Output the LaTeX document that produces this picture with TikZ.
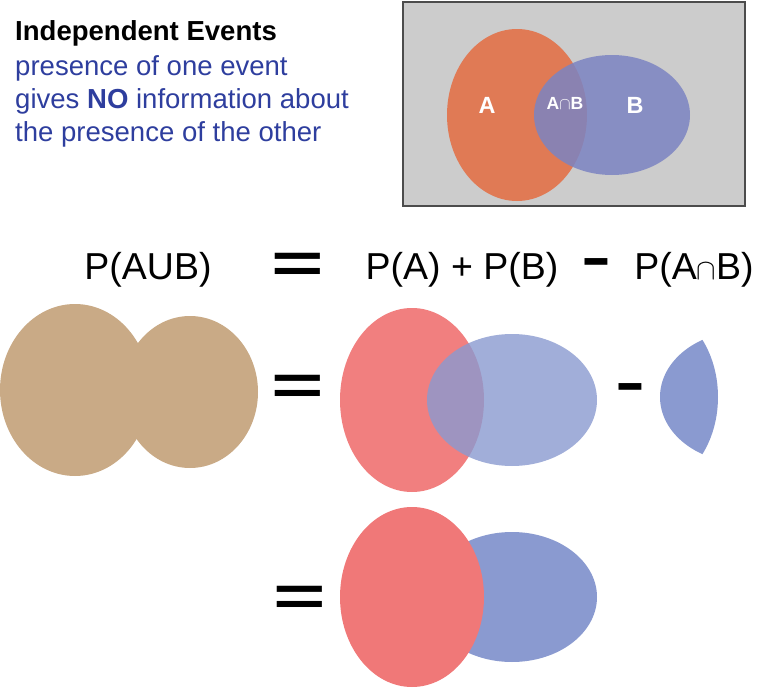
\documentclass[tikz,border=0pt]{standalone}
\usepackage{fontspec}
\setmainfont{Liberation Sans}
\usepackage{amssymb}
\usetikzlibrary{positioning}
\definecolor{evblue}{HTML}{2E3E9E}
\definecolor{aorange}{HTML}{E07A55}
\definecolor{bblue}{HTML}{7C84C2}
\definecolor{ured}{HTML}{F07878}
\definecolor{ublue}{HTML}{8A9AD0}
\definecolor{blobtan}{HTML}{C9AA86}
\begin{document}
\begin{tikzpicture}[x=0.03cm, y=-0.03cm,
    note/.style={font=\fontsize{23.5}{26}\selectfont, anchor=west, inner sep=0pt},
    eqtext/.style={font=\fontsize{32}{36}\selectfont, inner sep=0pt},
    eqsign/.style={font=\fontsize{48}{50}\selectfont\bfseries, inner sep=0pt, xscale=1.6},
    venn/.style={font=\fontsize{20}{22}\selectfont\bfseries, text=white, inner sep=0pt},
]
\useasboundingbox (0,0) rectangle (772,700);
% heading text
\node[note, font=\fontsize{23.5}{26}\selectfont\bfseries] (title) at (15,33) {Independent Events};
\node[note, text=evblue] (line1) at (15,68) {presence of one event};
\node[note, text=evblue] (line2) at (15,101) {gives \textbf{NO} information about};
\node[note, text=evblue] (line3) at (15,134) {the presence of the other};
% venn box
\draw[fill=black!20, draw=black!70, line width=1pt] (403,2) rectangle (745,206);
\fill[aorange] (517,115) ellipse [x radius=70, y radius=86];
\fill[bblue, fill opacity=0.85] (612,115) ellipse [x radius=78, y radius=60];
\node[venn] (la) at (487,105) {A};
\node[venn, font=\fontsize{15}{17}\selectfont\bfseries] (lab) at (565,103) {A$\cap$B};
\node[venn] (lb) at (635,105) {B};
% equation row
\node[eqtext] (pu) at (148,270) {P(AUB)};
\node[eqsign] (eq1) at (298,268) {=};
\node[eqtext] (pab) at (462,270) {P(A) + P(B)};
\node[eqsign] (mi1) at (596,268) {-};
\node[eqtext] (pi) at (694,270) {P(A$\cap$B)};
% union blob
\fill[blobtan] (75,390) ellipse [x radius=75, y radius=86];
\fill[blobtan] (190,392) ellipse [x radius=68, y radius=76];
\fill[blobtan] (110,360) rectangle (150,420);
\node[eqsign] (eq2) at (298,390) {=};
% overlapping ellipses
\fill[ured, fill opacity=0.95] (412,400) ellipse [x radius=72, y radius=92];
\fill[ublue, fill opacity=0.8] (512,400) ellipse [x radius=85, y radius=66];
\node[eqsign] (mi2) at (630,393) {-};
% intersection lens
\begin{scope}
  \clip (646,397) ellipse [x radius=72, y radius=92];
  \fill[ublue] (745,397) ellipse [x radius=85, y radius=66];
\end{scope}
% third row
\node[eqsign] (eq3) at (300,601) {=};
\fill[ublue] (512,597) ellipse [x radius=85, y radius=65];
\fill[ured] (412,597) ellipse [x radius=72, y radius=90];
\end{tikzpicture}
\end{document}
